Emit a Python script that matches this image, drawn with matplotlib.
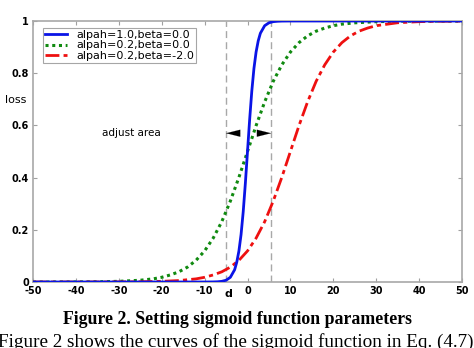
"""
Sigmoid loss curves for different alpha / beta settings
"""
import matplotlib
matplotlib.use("Agg")
import matplotlib.pyplot as plt


# Blue curve: alpha=1.0, beta=0.0
x_blue = [-50, -10, -8, -7, -6, -5, -4, -3, -2.5, -2, -1.5, -1, -0.5, 0,
          0.5, 1, 1.5, 2, 2.5, 3, 4, 5, 6, 7, 8, 10, 50]
y_blue = [0.0, 0.0, 0.0003, 0.0009, 0.0025, 0.0067, 0.018, 0.047, 0.076,
          0.119, 0.182, 0.269, 0.378, 0.5, 0.622, 0.731, 0.818, 0.881,
          0.924, 0.953, 0.982, 0.993, 0.9975, 0.999, 0.9997, 1.0, 1.0]

# Green curve: alpha=0.2, beta=0.0
x_green = [-50, -45, -40, -35, -30, -25, -22, -20, -18, -16, -14, -12, -10,
           -8, -6, -4, -2, 0, 2, 4, 6, 8, 10, 12, 14, 16, 18, 20, 22, 25,
           30, 35, 40, 45, 50]
y_green = [0.0, 0.0001, 0.0003, 0.0009, 0.0025, 0.0067, 0.012, 0.018, 0.027,
           0.039, 0.057, 0.083, 0.119, 0.168, 0.231, 0.31, 0.401, 0.5, 0.599,
           0.69, 0.769, 0.832, 0.881, 0.917, 0.943, 0.961, 0.973, 0.982,
           0.988, 0.993, 0.9975, 0.9991, 0.9997, 0.9999, 1.0]

# Red curve: alpha=0.2, beta=-2.0
x_red = [-50, -40, -30, -25, -20, -16, -12, -10, -8, -6, -4, -2, 0, 2, 4,
         6, 8, 10, 12, 14, 16, 18, 20, 22, 24, 26, 28, 30, 35, 40, 45, 50]
y_red = [0.0, 0.0, 0.0003, 0.0009, 0.0025, 0.0055, 0.012, 0.018, 0.027,
         0.039, 0.057, 0.083, 0.119, 0.168, 0.231, 0.31, 0.401, 0.5, 0.599,
         0.69, 0.769, 0.832, 0.881, 0.917, 0.943, 0.961, 0.973, 0.982,
         0.9933, 0.9975, 0.9991, 0.9997]

labels = ["alpah=1.0,beta=0.0", "alpah=0.2,beta=0.0", "alpah=0.2,beta=-2.0"]
x_ticks = [-50, -40, -30, -20, -10, 0, 10, 20, 30, 40, 50]
y_ticks = [0, 0.2, 0.4, 0.6, 0.8, 1]
y_ticklabels = ["0", "0.2", "0.4", "0.6", "0.8", "1"]

# adjust area bounds
d_left, d_right = -5.0, 5.5

plt.rcParams["font.family"] = ["DejaVu Sans"]
plt.rcParams["axes.unicode_minus"] = False

fig = plt.figure(figsize=(4.74, 3.48), dpi=100)
ax = fig.add_axes([33 / 474, 66 / 348, 429 / 474, 261 / 348])

ax.axvline(d_left, color="#a8a8a8", ls=(0, (5, 3)), lw=1.0, zorder=1)
ax.axvline(d_right, color="#a8a8a8", ls=(0, (5, 3)), lw=1.0, zorder=1)

ax.plot(x_blue, y_blue, color="#0a14e6", lw=2.0, label=labels[0], zorder=4)
ax.plot(x_green, y_green, color="#108a10", lw=2.2, ls=(0, (1, 1.2)),
        label=labels[1], zorder=3)
ax.plot(x_red, y_red, color="#ee1010", lw=2.0, ls=(0, (5, 1.5, 1.5, 1.5)),
        label=labels[2], zorder=3)

ax.set_xlim(-50, 50)
ax.set_ylim(0, 1)
ax.set_xticks(x_ticks)
ax.set_yticks(y_ticks)
ax.set_yticklabels(y_ticklabels)
ax.tick_params(direction="in", length=3, width=0.8, color="#a0a0a0",
               top=True, right=True, labelsize=7, pad=3)
for t in ax.get_xticklabels() + ax.get_yticklabels():
    t.set_fontweight("bold")
for s in ax.spines.values():
    s.set_color("#a8a8a8")
    s.set_linewidth(1.2)

leg = ax.legend(loc="upper left", bbox_to_anchor=(0.023, 0.973),
                fontsize=8, frameon=True, fancybox=False, handlelength=2.0,
                handletextpad=0.8, labelspacing=0.02, borderpad=0.2,
                borderaxespad=0)
leg.get_frame().set_edgecolor("#909090")
leg.get_frame().set_linewidth(0.8)

# arrow heads pointing outwards at the adjust area bounds
head = "-|>,head_length=1.0,head_width=0.25"
ax.annotate("", xy=(d_left, 0.57), xytext=(d_left + 3.3, 0.57),
            arrowprops=dict(arrowstyle=head, color="black", lw=0.1,
                            shrinkA=0, shrinkB=0))
ax.annotate("", xy=(d_right, 0.57), xytext=(d_right - 3.3, 0.57),
            arrowprops=dict(arrowstyle=head, color="black", lw=0.1,
                            shrinkA=0, shrinkB=0))
ax.text(-27, 0.57, "adjust area", fontsize=7.5, ha="center", va="center")
ax.text(d_left + 0.5, -0.025, "d", fontsize=8, ha="center", va="top",
        fontweight="bold")

fig.text(16 / 474, 1 - 100 / 348, "loss", fontsize=8, ha="center",
         va="center")

fig.text(0.5, 1 - 319 / 348, "Figure 2. Setting sigmoid function parameters",
         fontsize=12.8, fontweight="bold", family="Liberation Serif",
         ha="center", va="center")
fig.text(-0.005, 1 - 342 / 348,
         "Figure 2 shows the curves of the sigmoid function in Eq. (4.7)",
         fontsize=13.8, family="Liberation Serif", ha="left", va="center")

fig.savefig("out.png", dpi=100)
